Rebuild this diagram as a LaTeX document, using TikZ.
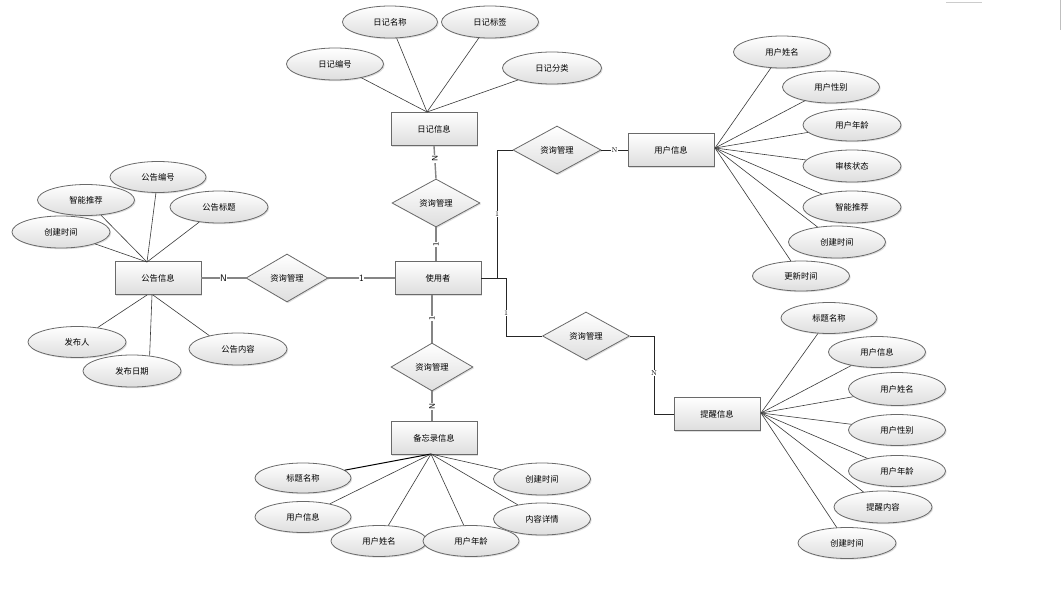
\documentclass[tikz,border=0pt]{standalone}
\usepackage{fontspec}
\newfontfamily\cjk{Noto Sans CJK SC}
\usetikzlibrary{shapes.geometric,shadows}
\definecolor{edgegray}{HTML}{6A6A6A}
\definecolor{linkgray}{HTML}{858585}
\definecolor{attrline}{HTML}{3A3A3A}
\tikzset{
  base/.style={draw=edgegray, line width=0.8pt, top color=white, bottom color=black!13,
    drop shadow={shadow xshift=1.2pt, shadow yshift=-1.2pt, fill=black!25},
    font=\cjk\fontsize{8.3}{9}\selectfont, inner sep=0pt},
  ent/.style={base, rectangle, minimum width=86pt, minimum height=33pt},
  attr/.style={base, ellipse, minimum width=96pt, minimum height=32pt},
  rel/.style={base, diamond, minimum width=88pt, minimum height=48pt},
  aline/.style={draw=attrline, line width=0.6pt},
  link/.style={draw=linkgray, line width=1.4pt},
  olink/.style={draw=black!85, line width=0.9pt},
  rlab/.style={fill=white, inner sep=0.6pt, font=\sffamily\fontsize{8}{8}\selectfont, rotate=90},
  slab/.style={fill=white, inner sep=0.6pt, font=\fontsize{7}{7}\selectfont},
  blab/.style={fill=white, inner sep=0.6pt, font=\sffamily\fontsize{9.5}{9.5}\selectfont}
}
\begin{document}
\begin{tikzpicture}[x=1pt,y=-1pt]
\useasboundingbox (0,0) rectangle (1061,591);
\fill[white] (0,0) rectangle (1061,591);
% page edge marks
\draw[black!20, line width=0.8pt] (946,2) -- (982,2);
\draw[black!25, line width=0.8pt] (1060,0) -- (1060,30);

% entities
\node[ent] (diary) at (434,129) {日记信息};
\node[ent] (user) at (671,150) {用户信息};
\node[ent] (notice) at (158,278) {公告信息};
\node[ent] (actor) at (438,278) {使用者};
\node[ent] (remind) at (717,414) {提醒信息};
\node[ent] (memo) at (434,438) {备忘录信息};

% relations
\node[rel] (rtop) at (436,203) {资询管理};
\node[rel, minimum width=82pt] (rleft) at (287,278) {资询管理};
\node[rel, minimum width=82pt] (rbot) at (432,367) {资询管理};
\node[rel] (rur) at (557,150) {资询管理};
\node[rel, minimum width=87pt] (rlr) at (586,336) {资询管理};

% diary attributes
\node[attr, minimum width=95pt] (d1) at (390,22) {日记名称};
\node[attr, minimum width=97pt] (d2) at (490,22) {日记标签};
\node[attr, minimum width=97pt] (d3) at (335,64) {日记编号};
\node[attr, minimum width=99pt] (d4) at (552,68) {日记分类};
\coordinate (dc) at (427,112);
\foreach \a in {d1,d2,d3,d4} \draw[aline] (\a) -- (dc);

% user attributes
\node[attr, minimum width=97pt] (u1) at (782,52) {用户姓名};
\node[attr, minimum width=97pt] (u2) at (831,87) {用户性别};
\node[attr, minimum width=98pt] (u3) at (852,125) {用户年龄};
\node[attr, minimum width=98pt] (u4) at (852,166) {审核状态};
\node[attr, minimum width=98pt] (u5) at (852,207) {智能推荐};
\node[attr, minimum width=97pt] (u6) at (837,242) {创建时间};
\node[attr, minimum width=97pt, minimum height=30pt] (u7) at (801,276) {更新时间};
\coordinate (uc) at (715,148);
\foreach \a in {u1,u2,u3,u4,u5,u6,u7} \draw[aline] (\a) -- (uc);

% notice attributes
\node[attr, minimum height=31pt] (n1) at (158,177) {公告编号};
\node[attr, minimum width=97pt, minimum height=31pt] (n2) at (86,200) {智能推荐};
\node[attr, minimum width=98pt] (n3) at (219,207) {公告标题};
\node[attr, minimum width=98pt] (n4) at (61,232) {创建时间};
\node[attr, minimum width=98pt, minimum height=31pt] (n5) at (77,342) {发布人};
\node[attr, minimum width=98pt] (n6) at (132,371) {发布日期};
\node[attr, minimum width=98pt] (n7) at (238,349) {公告内容};
\coordinate (nc) at (147,262);
\foreach \a in {n1,n2,n3,n4} \draw[aline] (\a) -- (nc);
\coordinate (nb1) at (147,295);
\coordinate (nb2) at (152,295);
\coordinate (nb3) at (153,295);
\draw[aline] (n5.35) -- (nb1);
\draw[aline] (n6.41) -- (nb2);
\draw[aline] (n7.155) -- (nb3);

% reminder attributes
\node[attr, minimum width=96pt, minimum height=31pt] (m1) at (829,318) {标题名称};
\node[attr, minimum width=97pt, minimum height=31pt] (m2) at (877,352) {用户信息};
\node[attr, minimum width=97pt, minimum height=33pt] (m3) at (897,389) {用户姓名};
\node[attr, minimum width=97pt, minimum height=31pt] (m4) at (897,430) {用户性别};
\node[attr, minimum width=97pt, minimum height=31pt] (m5) at (897,471) {用户年龄};
\node[attr, minimum width=98pt] (m6) at (883,507) {提醒内容};
\node[attr, minimum width=98pt, minimum height=31pt] (m7) at (847,543) {创建时间};
\coordinate (mc) at (761,413);
\foreach \a in {m1,m2,m3,m4,m5,m6,m7} \draw[aline] (\a) -- (mc);

% memo attributes
\node[attr, minimum height=30pt] (e1) at (303,478) {标题名称};
\node[attr, minimum height=31pt] (e2) at (303,517) {用户信息};
\node[attr, minimum height=31pt] (e3) at (379,541) {用户姓名};
\node[attr, minimum height=31pt] (e4) at (471,541) {用户年龄};
\node[attr, minimum width=97pt] (e5) at (542,479) {创建时间};
\node[attr, minimum width=97pt] (e6) at (542,519) {内容详情};
\coordinate (ec) at (431,454);
\draw[draw=black, line width=1pt] (e1) -- (ec);
\foreach \a in {e2,e3,e4,e5,e6} \draw[aline] (\a) -- (ec);

% relation links (center)
\draw[link] (diary.south) -- node[rlab, pos=0.4] {N} (rtop.north);
\draw[link] (rtop.south) -- node[rlab, pos=0.5] {1} (rtop.south |- actor.north);
\draw[link] (notice.east) -- node[blab] {N} (rleft.west);
\draw[link] (rleft.east) -- node[blab, pos=0.5] {1} (actor.west);
\draw[link] (rbot.north |- actor.south) -- node[rlab, pos=0.5] {1} (rbot.north);
\draw[link] (rbot.south) -- node[rlab, pos=0.5] {N} (rbot.south |- memo.north);

% orthogonal links (right)
\coordinate (a1) at (497,278);
\coordinate (a2) at (506,278);
\draw[olink] (actor.east) -- (a2);
\draw[olink] (a1) -- node[slab, pos=0.5] {1} (a1 |- rur.west) -- (rur.west);
\draw[olink] (rur.east) -- node[slab] {N} (user.west);
\draw[olink] (a2) -- node[slab, pos=0.6] {1} (a2 |- rlr.west) -- (rlr.west);
\coordinate (b1) at (654,336);
\draw[olink] (rlr.east) -- (b1) -- node[slab, pos=0.47] {N} (b1 |- remind.west) -- (remind.west);
\end{tikzpicture}
\end{document}
